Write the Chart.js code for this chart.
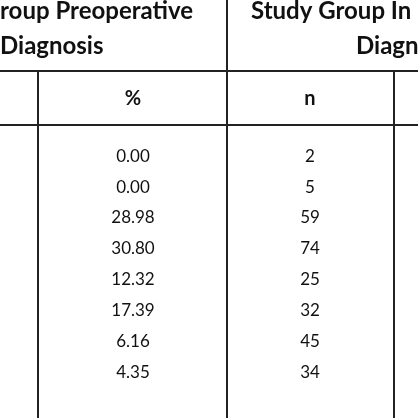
<!DOCTYPE html>
<html>
<head>
<meta charset="utf-8">
<script src="https://cdn.jsdelivr.net/npm/chart.js@4"></script>
<style>
  html, body { margin: 0; padding: 0; background: #fff; }
  #wrap { width: 418px; height: 418px; }
</style>
</head>
<body>
<div id="wrap"><canvas id="tableChart"></canvas></div>
<script>
// table contents
const pctValues = ["0.00", "0.00", "28.98", "30.80", "12.32", "17.39", "6.16", "4.35"];
const nValues = ["2", "5", "59", "74", "25", "32", "45", "34"];
const headerLeft = ["roup Preoperative", "Diagnosis"];
const headerRight = ["Study Group In", "Diagn"];
const subHeaders = ["%", "n"];

// layout of the table (pixel units on a 0..418 grid)
const rowY = [157, 188, 218, 249, 280, 311, 342, 373];
const pctX = 133, nX = 310;

const labels = [];
labels.push({ x: 0, y: 11, t: headerLeft[0], bold: true, size: 24, align: "left" });
labels.push({ x: 0, y: 46, t: headerLeft[1], bold: true, size: 24, align: "left" });
labels.push({ x: 251, y: 11, t: headerRight[0], bold: true, size: 24, align: "left" });
labels.push({ x: 356, y: 46, t: headerRight[1], bold: true, size: 24, align: "left" });
labels.push({ x: pctX, y: 99, t: subHeaders[0], bold: true, size: 20, align: "center" });
labels.push({ x: nX, y: 99, t: subHeaders[1], bold: true, size: 20, align: "center" });
pctValues.forEach((v, i) => labels.push({ x: pctX, y: rowY[i], t: v, size: 17, align: "center" }));
nValues.forEach((v, i) => labels.push({ x: nX, y: rowY[i], t: v, size: 17, align: "center" }));

const gridLines = [
  [[227, 0], [227, 418]],
  [[0, 71], [418, 71]],
  [[0, 125], [418, 125]],
  [[38, 71], [38, 418]],
  [[394, 71], [394, 418]]
];

const textPlugin = {
  id: "cellText",
  afterDatasetsDraw(chart) {
    const { ctx, scales } = chart;
    ctx.save();
    ctx.fillStyle = "#111";
    ctx.textBaseline = "middle";
    labels.forEach(l => {
      ctx.font = (l.bold ? "bold " : "") + l.size + "px Lato, 'Open Sans', sans-serif";
      ctx.textAlign = l.align;
      ctx.fillText(l.t, scales.x.getPixelForValue(l.x), scales.y.getPixelForValue(l.y));
    });
    ctx.restore();
  }
};

new Chart(document.getElementById("tableChart"), {
  type: "scatter",
  data: {
    datasets: gridLines.map(seg => ({
      data: seg.map(p => ({ x: p[0], y: p[1] })),
      showLine: true,
      borderColor: "#222",
      borderWidth: 2,
      pointRadius: 0
    }))
  },
  options: {
    responsive: true,
    maintainAspectRatio: false,
    animation: false,
    layout: { padding: 0 },
    plugins: { legend: { display: false }, tooltip: { enabled: false } },
    scales: {
      x: { type: "linear", min: 0, max: 418, display: false },
      y: { type: "linear", min: 0, max: 418, reverse: true, display: false }
    }
  },
  plugins: [textPlugin]
});
</script>
</body>
</html>
